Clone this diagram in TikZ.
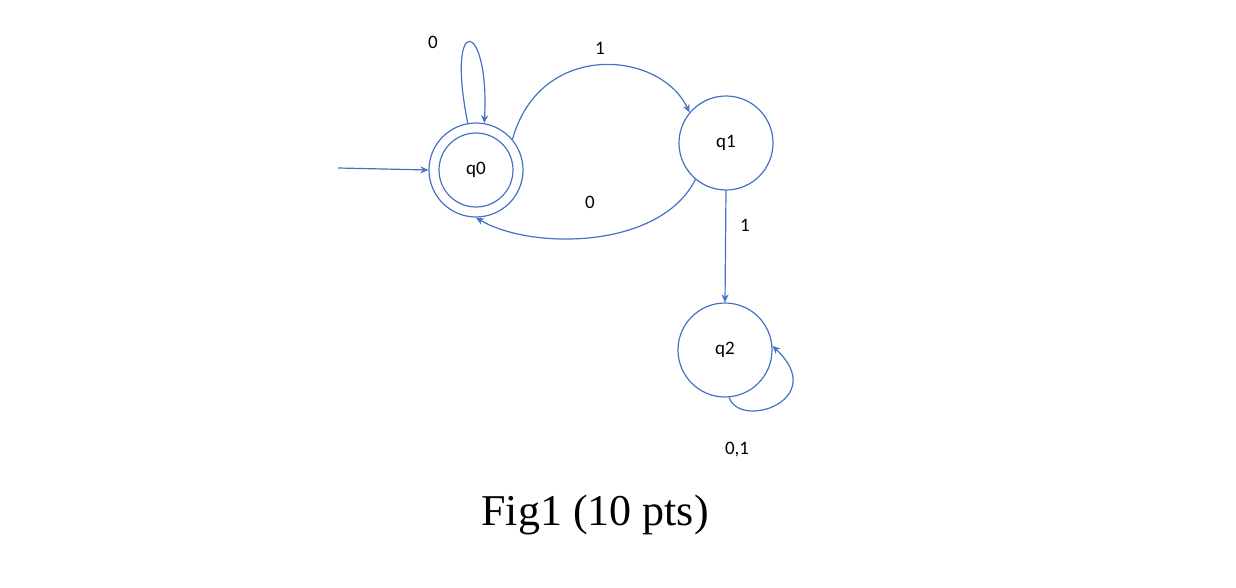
\documentclass[tikz,border=0pt]{standalone}
\usepackage{fontspec}
\setmainfont{Liberation Serif}
\newfontfamily\lab{Carlito}
\usetikzlibrary{arrows.meta}
\definecolor{edge}{RGB}{68,114,196}
\begin{document}
\begin{tikzpicture}[x=0.5pt,y=-0.5pt,
  st/.style={circle,draw=edge,line width=0.6pt,minimum size=47pt,inner sep=0pt,font=\lab\fontsize{9.5}{11}\selectfont},
  lbl/.style={font=\lab\fontsize{9.5}{11}\selectfont},
  ed/.style={draw=edge,line width=0.6pt,-{Stealth[length=4pt,width=3.5pt]}}]
\useasboundingbox (0,0) rectangle (1236,588);
\node[st] (q0) at (476,170) {q0};
\node[circle,draw=edge,line width=0.6pt,minimum size=37pt] (q0i) at (476,170) {};
\node[st] (q1) at (726,143) {q1};
\node[st] (q2) at (725,350) {q2};
\coordinate (s) at (338,168);
\draw[ed] (s) -- (q0.west);
\draw[ed] (q0.100) .. controls (445,10) and (490,20) .. (q0.80);
\node[lbl] (l0) at (433,42) {0};
\draw[ed] (q0.40) .. controls (540,40) and (660,50) .. (q1.140);
\node[lbl] (l1) at (600,48) {1};
\draw[ed] (q1.230) .. controls (660,250) and (530,250) .. (q0.-90);
\node[lbl] (l2) at (590,202) {0};
\draw[ed] (q1.south) -- (q2.north);
\node[lbl] (l3) at (745,225) {1};
\draw[ed] (q2.-85) .. controls (740,430) and (830,400) .. (q2.5);
\node[lbl] (l4) at (737,450) {0,1};
\node[font=\fontsize{22}{26}\selectfont] (cap) at (595,515) {Fig1 (10 pts)};
\end{tikzpicture}
\end{document}
